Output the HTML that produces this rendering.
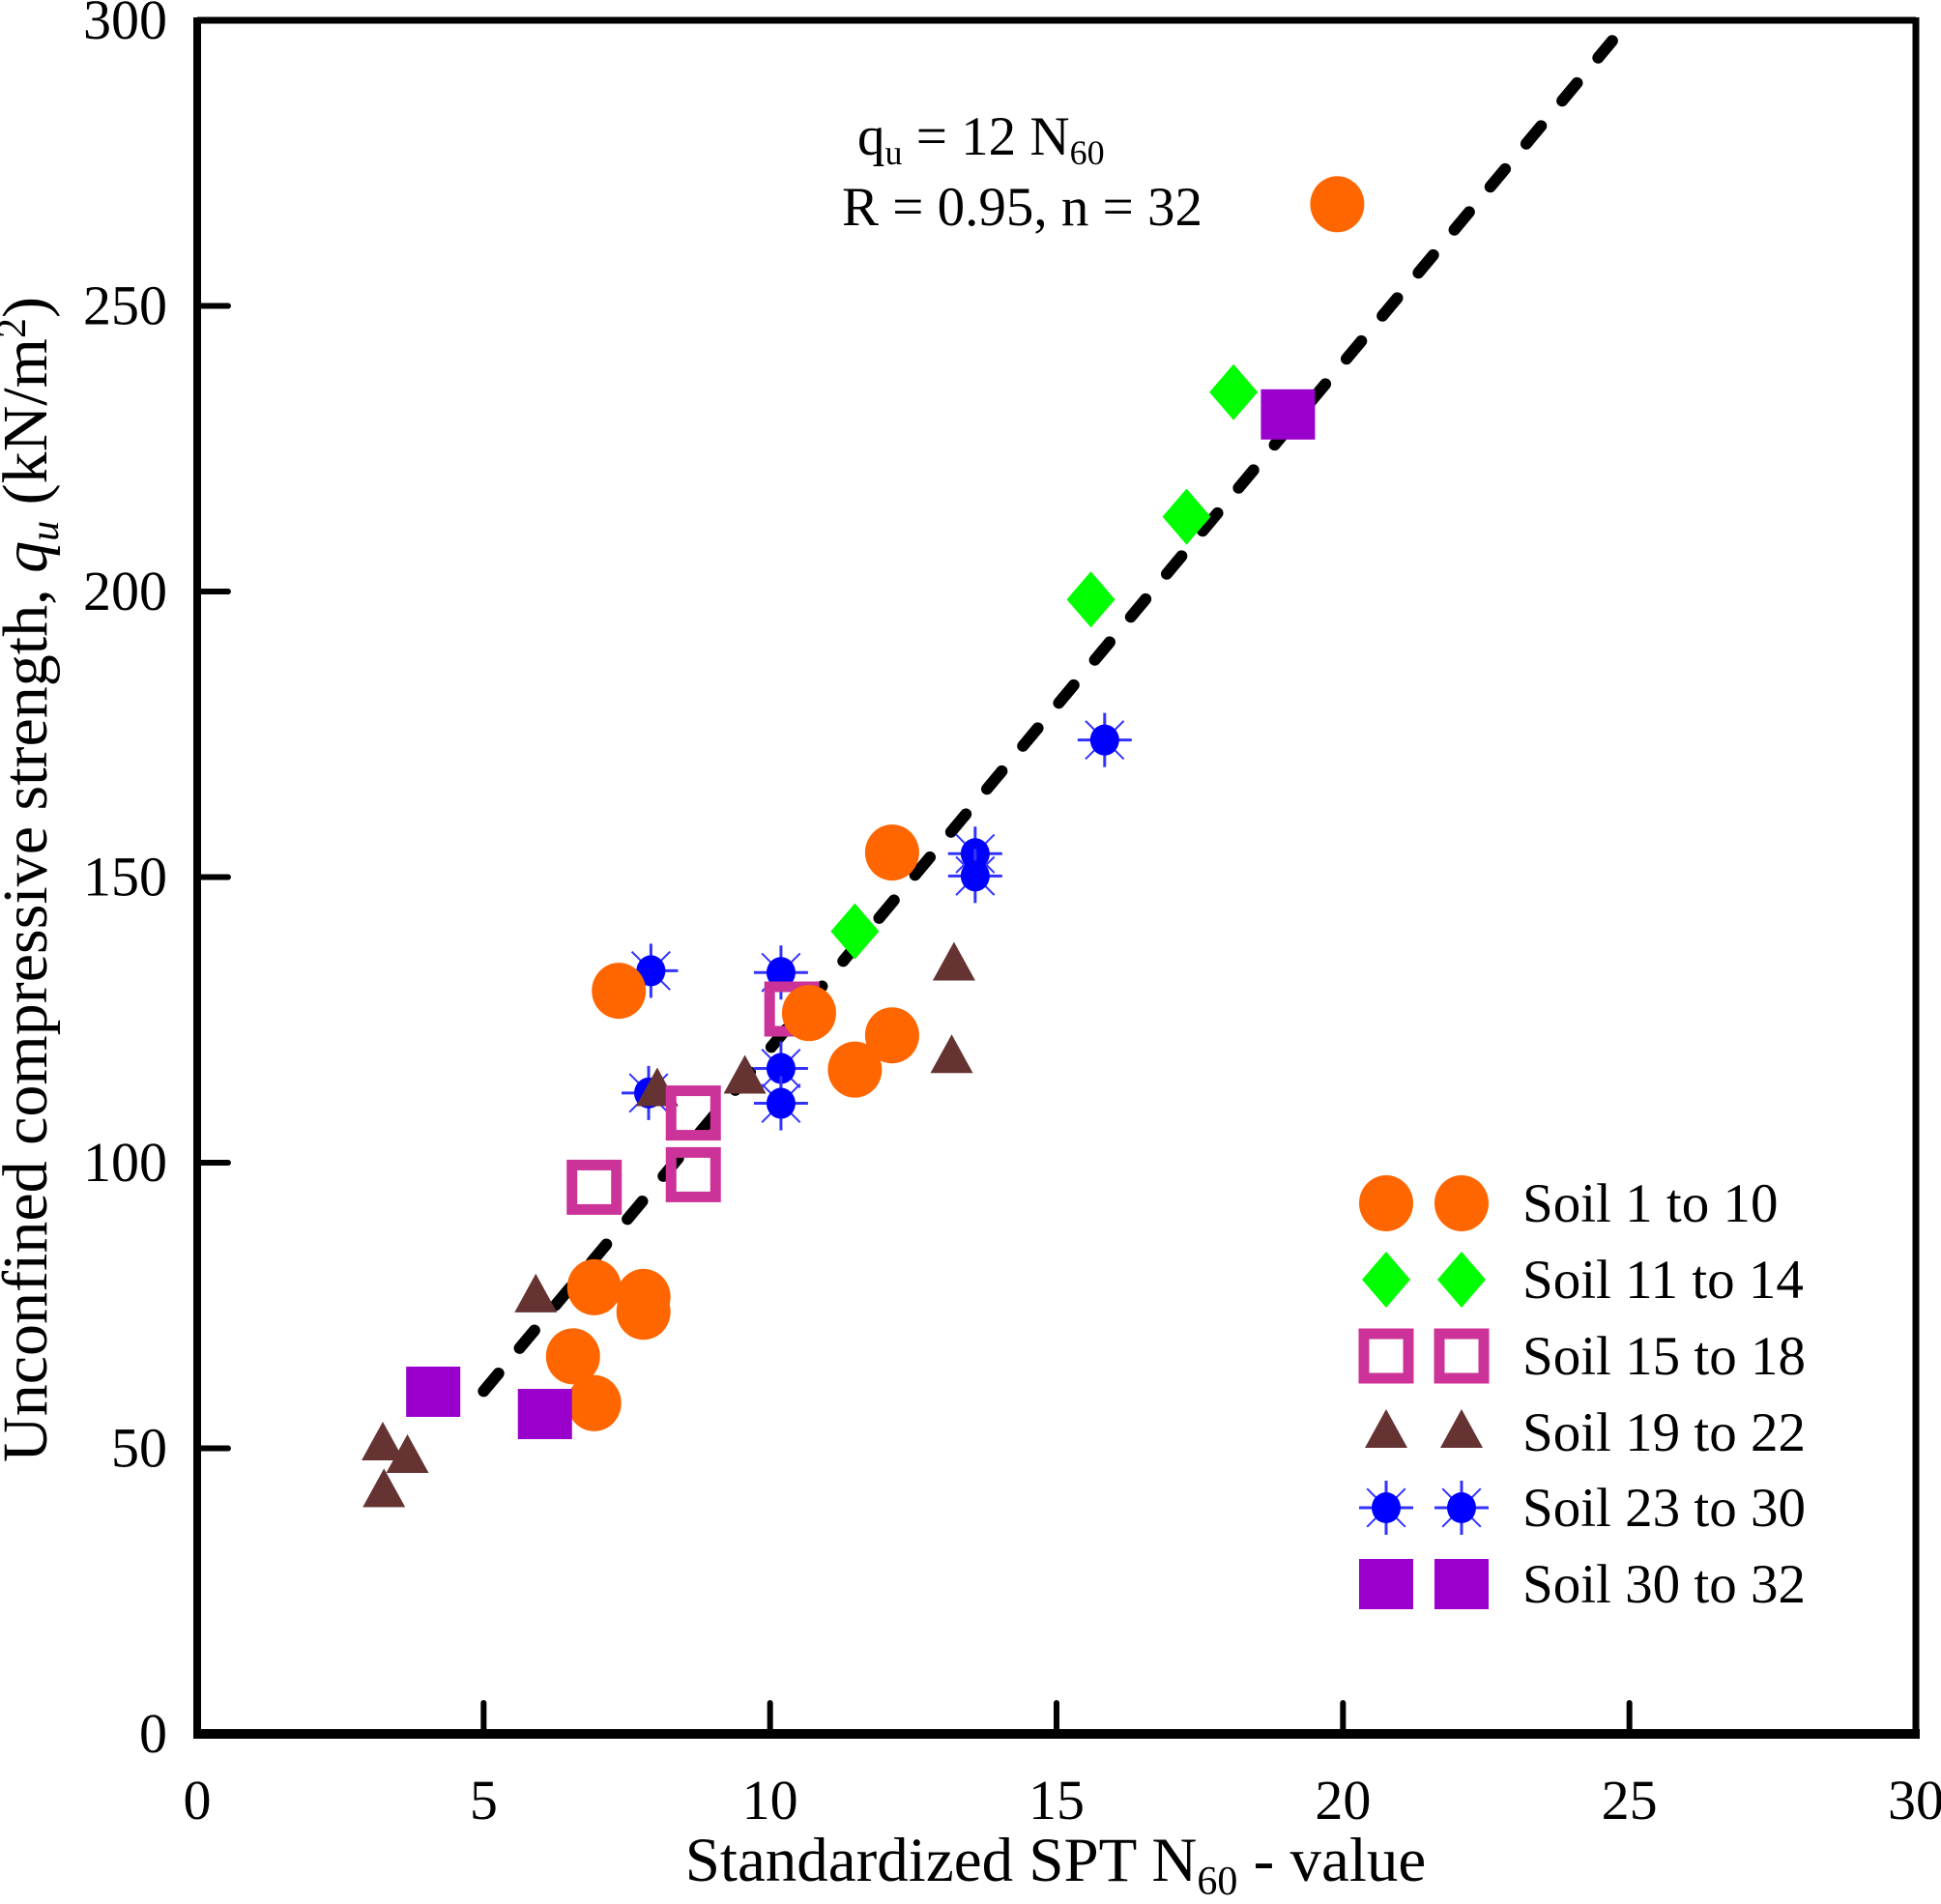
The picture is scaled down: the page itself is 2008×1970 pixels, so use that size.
<!DOCTYPE html>
<html><head><meta charset="utf-8"><style>
html,body{margin:0;padding:0;background:#fff}
svg{display:block;font-family:"Liberation Serif",serif}
</style></head><body>
<svg id="chart" width="2008" height="1970" viewBox="0 0 2008 1970" xmlns="http://www.w3.org/2000/svg">
<g id="grid"></g>
<g id="marks"></g>
<g id="legend"></g>
<text x="887" y="160" font-size="57">q<tspan font-size="36" dy="10">u</tspan><tspan dy="-10"> = 12 N</tspan><tspan font-size="36" dy="10">60</tspan></text>
<text x="871" y="233" font-size="57">R = 0.95, n = 32</text>
<text x="1092" y="1946" font-size="65" text-anchor="middle">Standardized SPT N<tspan font-size="42" dy="14">60</tspan><tspan dy="-14"> - value</tspan></text>
<text transform="translate(48,910) rotate(-90)" font-size="66" text-anchor="middle">Unconfined compressive strength, <tspan font-style="italic">q</tspan><tspan font-style="italic" font-size="42" dy="12">u</tspan><tspan dy="-12"> (kN/m</tspan><tspan font-size="42" dy="-22">2</tspan><tspan dy="22">)</tspan></text>
</svg>
<script>
const xTicks=[0,5,10,15,20,25,30];
const yTicks=[0,50,100,150,200,250,300];
const soil1X=[19.9,12.13,7.36,10.68,12.13,11.48,6.93,7.79,7.79,6.56,6.93];
const soil1Y=[267.8,154.3,130.1,126.2,122.3,116.3,78.2,76.5,73.9,66.1,57.9];
const soil11X=[18.09,17.27,15.6,11.48];
const soil11Y=[234.9,213.1,198.6,140.5];
const soil15X=[6.93,8.66,8.66,10.38];
const soil15Y=[95.7,97.9,108.7,126.9];
const soil19X=[13.21,13.17,9.56,8.03,5.91,3.24,3.67,3.26];
const soil19Y=[134.6,118.4,114.8,112.6,76.5,50.6,48.4,42.4];
const soil23X=[15.84,13.58,13.58,7.92,10.19,10.19,10.19,7.88];
const soil23Y=[174,154.1,150.2,133.6,133.3,116.5,110.4,112.2];
const soil30X=[19.04,4.12,6.07];
const soil30Y=[231,59.9,56];
const fitX=[5,24.7];
const fitSlope=12;
const legendLabels=["Soil 1 to 10","Soil 11 to 14","Soil 15 to 18","Soil 19 to 22","Soil 23 to 30","Soil 30 to 32"];

const NS="http://www.w3.org/2000/svg";
const X0=204,X1=1982,Y0=1794,Y1=21;
const sx=v=>X0+(v-0)/(30-0)*(X1-X0);
const sy=v=>Y0-(v-0)/(300-0)*(Y0-Y1);
function mk(tag,attrs,parent){const e=document.createElementNS(NS,tag);for(const k in attrs)e.setAttribute(k,attrs[k]);parent.appendChild(e);return e;}
const grid=document.getElementById('grid'),marks=document.getElementById('marks'),legend=document.getElementById('legend');

let f;
f=mk('line',{x1:X0,y1:Y1,x2:X1,y2:Y1,stroke:'#000','stroke-width':7},grid);

f=mk('line',{x1:X1,y1:Y1-3,x2:X1,y2:Y0+5,stroke:'#000','stroke-width':7},grid);

f=mk('line',{x1:X0,y1:Y1-3,x2:X0,y2:Y0+5,stroke:'#000','stroke-width':8},grid);

f=mk('line',{x1:X0-4,y1:Y0,x2:X1+4,y2:Y0,stroke:'#000','stroke-width':10},grid);


xTicks.forEach(t=>{
  if(t>0&&t<30){const l=mk('line',{x1:sx(t),y1:Y0,x2:sx(t),y2:Y0-32,stroke:'#000','stroke-width':6,'stroke-linecap':'round'},grid);
  }
  const tx=mk('text',{x:sx(t),y:1882,'font-size':58,'text-anchor':'middle'},grid);tx.textContent=t;
  
});
yTicks.forEach(t=>{
  if(t>0&&t<300){const l=mk('line',{x1:X0,y1:sy(t),x2:X0+32,y2:sy(t),stroke:'#000','stroke-width':6,'stroke-linecap':'round'},grid);
  }
  const tx=mk('text',{x:173,y:sy(t)+19,'font-size':58,'text-anchor':'end'},grid);tx.textContent=t;
  
});

const fit=mk('line',{x1:sx(fitX[0]),y1:sy(fitX[0]*fitSlope),x2:sx(fitX[1]),y2:sy(fitX[1]*fitSlope),stroke:'#000','stroke-width':12,'stroke-linecap':'round','stroke-dasharray':'24 34'},marks);



function circle(x,y,p){return mk('ellipse',{cx:x,cy:y,rx:28,ry:29,fill:'#ff6600'},p);}
function diamond(x,y,p){return mk('polygon',{points:`${x},${y-29} ${x+25},${y} ${x},${y+29} ${x-25},${y}`,fill:'#00ff00'},p);}
function osq(x,y,p){return mk('rect',{x:x-23,y:y-23,width:46,height:46,fill:'none',stroke:'#cc3399','stroke-width':11},p);}
function tri(x,y,p){return mk('polygon',{points:`${x},${y-24} ${x+22},${y+16} ${x-22},${y+16}`,fill:'#663333'},p);}
function star(x,y,p){const g=mk('g',{},p);
  for(let i=0;i<8;i++){const a=i*Math.PI/4;const r=28;mk('line',{x1:x,y1:y,x2:x+r*Math.cos(a),y2:y+r*Math.sin(a),stroke:'#3333ff','stroke-width':i%2?2:3},g);}
  mk('ellipse',{cx:x,cy:y,rx:15,ry:16,fill:'#0000ff'},g);return g;}
function fsq(x,y,p){return mk('rect',{x:x-28,y:y-26,width:56,height:52,fill:'#9900cc'},p);}

const series=[
 [soil1X,soil1Y,circle,'soil-1-10-point'],
 [soil11X,soil11Y,diamond,'soil-11-14-point'],
 [soil15X,soil15Y,osq,'soil-15-18-point'],
 [soil19X,soil19Y,tri,'soil-19-22-point'],
 [soil23X,soil23Y,star,'soil-23-30-point'],
 [soil30X,soil30Y,fsq,'soil-30-32-point']
];
const order=[4,3,2,0,1,5];
order.forEach(si=>{const [xs,ys,fn,name]=series[si];
  xs.forEach((v,i)=>{const e=fn(sx(v),sy(ys[i]),marks);
    
    });
});

const rowsY=[1245,1324,1403,1482,1560,1639];
series.forEach((s,i)=>{
  const g=mk('g',{},legend);
  
  
  s[2](1434,rowsY[i],g);s[2](1512,rowsY[i],g);
  const t=mk('text',{x:1575,y:rowsY[i]+19,'font-size':57},g);t.textContent=legendLabels[i];
});
</script>
</body></html>
